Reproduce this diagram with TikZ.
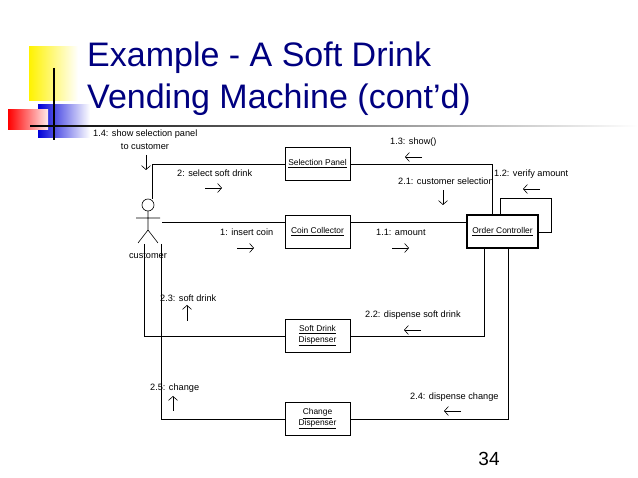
\documentclass[tikz,border=0pt]{standalone}
\usepackage{fontspec}
\setmainfont{Liberation Sans}
\usetikzlibrary{arrows.meta}
\begin{document}
\begin{tikzpicture}[x=1pt,y=-1pt,
  box/.style={draw,line width=0.6pt,minimum width=65pt,minimum height=33pt,inner sep=1pt,align=center,font=\fontsize{8.4}{10.5}\selectfont},
  lbl/.style={font=\fontsize{9.2}{11}\selectfont,inner sep=0pt,anchor=west},
  ln/.style={line width=0.6pt},
  ar/.style={line width=0.6pt,-{Straight Barb[length=4pt,width=9pt]}}]
\useasboundingbox (0,0) rectangle (638,478);
% decoration
\shade[left color=yellow!90!orange,middle color=yellow!80!orange,right color=white] (29,47) rectangle (78,101);
\shade[left color=blue!85!black,middle color=blue!70!black,right color=white] (38,105) rectangle (90,138);
\shade[left color=red,right color=red!8] (8,110) rectangle (48,130);
\draw[line width=1.3pt] (54,68) -- (54,140);
\shade[left color=black,right color=white] (30,125.3) rectangle (638,127);
\node[anchor=west,text=blue!50!black,font=\fontsize{34}{42}\selectfont,align=left,inner sep=0pt] (title) at (87,79) {Example - A Soft Drink\\Vending Machine (cont’d)};
\node[font=\fontsize{19}{22}\selectfont,inner sep=0pt] (pg) at (489,459) {34};
% actor
\draw[ln] (148,205) circle (6);
\draw[ln] (148,211) -- (148,230) (136,218) -- (160,218) (148,230) -- (138,243) (148,230) -- (158,243);
\node[lbl,anchor=center] (cust) at (148,256) {customer};
\coordinate (a1) at (152,199);
% boxes
\node[box] (sp) at (317.5,164) {\underline{Selection Panel}};
\node[box] (cc) at (317.5,232) {\underline{Coin Collector}};
\node[box,line width=2pt,minimum width=71pt] (oc) at (502.5,232) {\underline{Order Controller}};
\node[box] (sd) at (317.5,336) {\underline{Soft Drink}\\\underline{Dispenser}};
\node[box] (cd) at (317.5,419) {\underline{Change}\\\underline{Dispenser}};
% links
\draw[ln] (a1) |- (sp.west);
\draw[ln] (sp.east) -| (492,215.5);
\draw[ln] (538,232) -- (551,232) -- (551,198) -- (500,198) -- (500,215.5);
\draw[ln] (162,222) -- (cc.west |- 0,222);
\draw[ln] (cc.east |- 0,222) -- (oc.west |- 0,222);
\draw[ln] (144,244) |- (sd.west);
\draw[ln] (sd.east) -| (484,248.5);
\draw[ln] (161,244) |- (cd.west);
\draw[ln] (cd.east) -| (508,248.5);
% labels
\node[lbl] (l14) at (93,134) {1.4: show selection panel};
\node[lbl,anchor=center] (l14b) at (145,147) {to customer};
\draw[ar] (146,155) -- (146,170);
\node[lbl] (l2) at (177,173) {2: select soft drink};
\draw[ar] (205,188) -- (222,188);
\node[lbl] (l13) at (390,142) {1.3: show()};
\draw[ar] (422,157) -- (405,157);
\node[lbl] (l21) at (398,181) {2.1: customer selection};
\draw[ar] (443,190) -- (443,205);
\node[lbl] (l12) at (494,174) {1.2: verify amount};
\draw[ar] (540,189) -- (523,189);
\node[lbl] (l1) at (220,232) {1: insert coin};
\draw[ar] (237,248) -- (254,248);
\node[lbl] (l11) at (376,232) {1.1: amount};
\draw[ar] (392,248) -- (409,248);
\node[lbl] (l23) at (160,298) {2.3: soft drink};
\draw[ar] (187,321) -- (187,305);
\node[lbl] (l22) at (365,315) {2.2: dispense soft drink};
\draw[ar] (421,330) -- (404,330);
\node[lbl] (l25) at (150,388) {2.5: change};
\draw[ar] (173,411) -- (173,396);
\node[lbl] (l24) at (410,397) {2.4: dispense change};
\draw[ar] (461,411) -- (444,411);
\end{tikzpicture}
\end{document}
